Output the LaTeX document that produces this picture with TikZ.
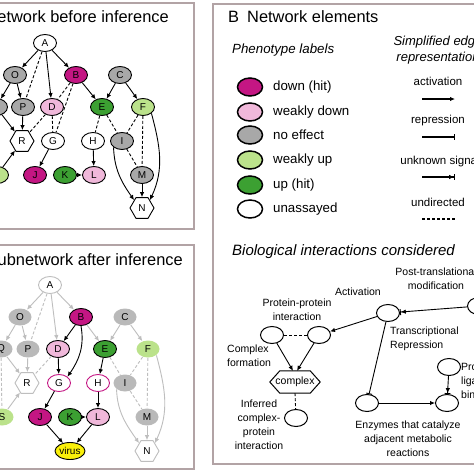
\documentclass[tikz,border=0pt]{standalone}
\usepackage{fontspec}
\setmainfont{Liberation Sans}
\usetikzlibrary{shapes.geometric,arrows.meta}
\definecolor{mag}{RGB}{196,22,131}
\definecolor{pnk}{RGB}{240,184,218}
\definecolor{gry}{RGB}{168,168,168}
\definecolor{gryb}{RGB}{185,185,185}
\definecolor{lgr}{RGB}{187,226,139}
\definecolor{dgr}{RGB}{60,160,50}
\definecolor{yel}{RGB}{250,240,10}
\definecolor{bcol}{RGB}{178,163,165}
\definecolor{egr}{RGB}{190,190,190}
\tikzset{
 nd/.style={ellipse, draw=black, line width=0.9pt, minimum width=23pt, minimum height=17pt, inner sep=0pt, font=\fontsize{10}{10}\selectfont},
 hx/.style={regular polygon, regular polygon sides=6, draw=black, line width=0.9pt, minimum size=24pt, inner sep=0pt, font=\fontsize{10}{10}\selectfont, fill=white},
 nb/.style={draw=none},
 gbord/.style={draw=egr},
 mbord/.style={draw=mag},
 edA/.style={line width=0.9pt, -{Latex[length=5pt,width=4.5pt]}},
 edU/.style={line width=0.9pt, dash pattern=on 3pt off 2pt},
 edR/.style={line width=0.9pt, -{Bar[width=6pt,line width=0.9pt]}},
 edX/.style={line width=0.9pt, -{Latex[length=5pt,width=4.5pt]Bar[width=6pt,line width=0.9pt]}},
 thk/.style={line width=1.2pt},
 gE/.style={draw=egr},
 panel/.style={draw=bcol, line width=2pt},
 ttl/.style={font=\fontsize{16.4}{19}\selectfont, inner sep=0pt},
 lgd/.style={ellipse, draw=black, line width=1.5pt, minimum width=25pt, minimum height=18pt, inner sep=0pt},
 lgt/.style={font=\fontsize{13.3}{15}\selectfont, anchor=west, inner sep=0pt},
 elt/.style={font=\fontsize{11.5}{13}\selectfont, inner sep=0pt},
 sml/.style={font=\fontsize{10.5}{14}\selectfont, inner sep=0pt, align=center},
 bnd/.style={ellipse, draw=black, line width=1pt, minimum width=23pt, minimum height=17pt, inner sep=0pt},
}
\begin{document}
\begin{tikzpicture}[x=1pt,y=-1pt]
\useasboundingbox (0,0) rectangle (474,474);
\clip (0,0) rectangle (474,474);
\fill[white] (0,0) rectangle (474,474);
% panels
\draw[panel] (-10,3) rectangle (194,229);
\draw[panel] (-10,245) rectangle (194,469);
\draw[panel] (213,4) rectangle (490,464);
\node[ttl, anchor=base east] (t1) at (169,22) {Network before inference};
\node[ttl, anchor=base east] (t2) at (183,265) {Subnetwork after inference};

% ---------- top network ----------
\node[nd, fill=white] (tA) at (45,43) {A};
\node[nd, fill=gry] (tO) at (15,75) {O};
\node[nd, fill=mag] (tB) at (76,75) {B};
\node[nd, fill=gry] (tC) at (120,75) {C};
\node[nd, fill=gry] (tQ) at (-4,107) {Q};
\node[nd, fill=gry] (tP) at (23,107) {P};
\node[nd, fill=pnk] (tD) at (52,107) {D};
\node[nd, fill=dgr] (tE) at (102,107) {E};
\node[nd, fill=lgr] (tF) at (143,107) {F};
\node[hx] (tR) at (22,141) {R};
\node[nd, fill=white] (tG) at (53,141) {G};
\node[nd, fill=white] (tH) at (93,141) {H};
\node[nd, fill=gry] (tI) at (122,141) {I};
\node[nd, fill=lgr] (tS) at (-3,175) {S};
\node[nd, fill=mag] (tJ) at (35,175) {J};
\node[nd, fill=dgr] (tK) at (65,175) {K};
\node[nd, fill=pnk] (tL) at (94,175) {L};
\node[nd, fill=gry] (tM) at (142,175) {M};
\node[hx] (tN) at (142,208) {N};
\draw[edA] (tA) -- (tO);
\draw[edA] (tA) -- (tB);
\draw[edA] (tA) -- (tD);
\draw[edU] (tA) -- (tP);
\draw[edA] (tO) -- (tQ);
\draw[edA] (tO) -- (tP);
\draw[edU] (tB) -- (tD);
\draw[edU] (tB) -- (tG);
\draw[edA] (tB) -- (tE);
\draw[edA] (tC) -- (tE);
\draw[edA] (tC) -- (tF);
\draw[edU] (tQ) -- (tS);
\draw[edA] (tQ) -- (tR);
\draw[edA] (tP) -- (tR);
\draw[edA] (tS) -- (tR);
\draw[edU] (tD) -- (tR);
\draw[edU] (tD) -- (tG);
\draw[edA] (tG) -- (tJ);
\draw[edU] (tE) -- (tH);
\draw[edU] (tE) -- (tI);
\draw[edU] (tF) -- (tI);
\draw[edU] (tF) -- (tM);
\draw[edU] (tI) -- (tM);
\draw[edA] (tH) -- (tL);
\draw[edA] (tK) -- (tL);
\draw[edA] (tM) -- (tN);
\draw[edA] (tI.south west) to[out=-88,in=125] (tN.north west);
\draw[edA] (tF.south east) to[out=-75,in=65] (tN.north east);

% ---------- bottom network ----------
\begin{scope}[shift={(5,242)}]
\node[nd, fill=white, gbord] (bA) at (45,43) {A};
\node[nd, fill=gryb, nb] (bO) at (15,75) {O};
\node[nd, fill=mag] (bB) at (76,75) {B};
\node[nd, fill=gryb, nb] (bC) at (120,75) {C};
\node[nd, fill=gryb, nb] (bQ) at (-4,107) {Q};
\node[nd, fill=gryb, nb] (bP) at (23,107) {P};
\node[nd, fill=pnk] (bD) at (53,107) {D};
\node[nd, fill=dgr] (bE) at (100,107) {E};
\node[nd, fill=lgr, nb] (bF) at (143,107) {F};
\node[hx, gbord] (bR) at (22,141) {R};
\node[nd, fill=white, mbord] (bG) at (54,141) {G};
\node[nd, fill=white, mbord] (bH) at (93,141) {H};
\node[nd, fill=gryb, nb] (bI) at (120,141) {I};
\node[nd, fill=lgr, nb] (bS) at (-3,175) {S};
\node[nd, fill=mag] (bJ) at (35,175) {J};
\node[nd, fill=dgr] (bK) at (65,175) {K};
\node[nd, fill=pnk] (bL) at (93,175) {L};
\node[nd, fill=gryb, nb] (bM) at (142,175) {M};
\node[hx, gbord] (bN) at (142,209) {N};
\node[nd, fill=yel, minimum width=30pt] (bV) at (65,209) {virus};
\draw[edA, gE] (bA) -- (bO);
\draw[edA, gE] (bA) -- (bB);
\draw[edA, gE] (bA) -- (bD);
\draw[edU, gE] (bA) -- (bP);
\draw[edA, gE] (bO) -- (bQ);
\draw[edA, gE] (bO) -- (bP);
\draw[edA, gE] (bB) -- (bE);
\draw[edA, gE] (bC) -- (bE);
\draw[edA, gE] (bC) -- (bF);
\draw[edU, gE] (bQ) -- (bS);
\draw[edA, gE] (bQ) -- (bR);
\draw[edA, gE] (bP) -- (bR);
\draw[edA, gE] (bS) -- (bR);
\draw[edU, gE] (bD) -- (bR);
\draw[edU, gE] (bE) -- (bI);
\draw[edU, gE] (bF) -- (bI);
\draw[edU, gE] (bF) -- (bM);
\draw[edU, gE] (bI) -- (bM);
\draw[edA, gE] (bM) -- (bN);
\draw[edA, gE] (bI.south west) to[out=-88,in=125] (bN.north west);
\draw[edA, gE] (bF.south east) to[out=-75,in=65] (bN.north east);
\draw[edA] (bB) -- (bD);
\draw[edA] (bB.south) to[out=-80,in=55] (bG.north east);
\draw[edA] (bD) -- (bG);
\draw[edA] (bG) -- (bJ);
\draw[edA] (bE) -- (bH);
\draw[edA] (bH) -- (bL);
\draw[edA] (bK) -- (bL);
\draw[edA] (bJ) -- (bV);
\draw[edA] (bL) -- (bV);
\end{scope}

% ---------- panel B ----------
\node[ttl, anchor=base west] (tb1) at (228,22) {B};
\node[ttl, anchor=base west] (tb2) at (247,22) {Network elements};
\node[font=\fontsize{13.3}{15}\selectfont\itshape, anchor=base west, inner sep=0pt] (ph) at (232,53) {Phenotype labels};
\node[font=\fontsize{13}{16}\selectfont\itshape, align=center, inner sep=0pt] (se) at (438,50) {Simplified edge\\representation};

\node[lgd, fill=mag] (l1) at (250,87) {};
\node[lgd, fill=pnk] (l2) at (250,112) {};
\node[lgd, fill=gry] (l3) at (250,135) {};
\node[lgd, fill=lgr] (l4) at (250,160) {};
\node[lgd, fill=dgr] (l5) at (250,185) {};
\node[lgd, fill=white] (l6) at (250,209) {};
\node[lgt] (lt1) at (273,87) {down (hit)};
\node[lgt] (lt2) at (273,112) {weakly down};
\node[lgt] (lt3) at (273,135) {no effect};
\node[lgt] (lt4) at (273,160) {weakly up};
\node[lgt] (lt5) at (273,185) {up (hit)};
\node[lgt] (lt6) at (273,209) {unassayed};

\node[elt] (e1) at (438,81) {activation};
\node[elt] (e2) at (438,121) {repression};
\node[elt] (e3) at (440,162) {unknown signal};
\node[elt] (e4) at (438,202) {undirected};
\coordinate (a1) at (422,99); \coordinate (a2) at (455,99);
\coordinate (r1) at (422,137); \coordinate (r2) at (455,137);
\coordinate (u1) at (422,177); \coordinate (u2) at (455,177);
\coordinate (d1) at (422,219); \coordinate (d2) at (455,219);
\draw[edA, thk] (a1) -- (a2);
\draw[edR, thk] (r1) -- (r2);
\draw[edX, thk] (u1) -- (u2);
\draw[edU, thk] (d1) -- (d2);

% ---------- biological interactions ----------
\node[font=\fontsize{15}{17}\selectfont\itshape, anchor=base west, inner sep=0pt] (bi) at (232,255) {Biological interactions considered};
\node[sml] (tptm) at (436,279) {Post-translational\\modification};
\node[sml] (tact) at (358,292) {Activation};
\node[sml] (tppi) at (297,310) {Protein-protein\\interaction};
\node[sml, align=left, anchor=north west] (ttr) at (390,327) {Transcriptional\\Repression};
\node[sml, align=left, anchor=north west] (tcf) at (227,345) {Complex\\formation};
\node[sml] (tinf) at (259,425) {Inferred\\complex-\\protein\\interaction};
\node[sml] (tenz) at (408,439) {Enzymes that catalyze\\adjacent metabolic\\reactions};
\node[sml, align=left, anchor=north west] (tpb) at (461,363) {Protein-\\ligand\\binding};

\node[bnd] (ptm) at (479,306) {};
\node[bnd] (act) at (388,313) {};
\node[bnd] (ppl) at (272,335) {};
\node[bnd] (ppr) at (319,335) {};
\node[inner sep=0pt, minimum width=50pt, minimum height=22pt, font=\fontsize{10.5}{12}\selectfont] (cx) at (295,382) {complex};
\draw[line width=1pt] (cx.west) -- ([xshift=10pt]cx.north west) -- ([xshift=-10pt]cx.north east) -- (cx.east) -- ([xshift=-10pt]cx.south east) -- ([xshift=10pt]cx.south west) -- cycle;
\node[bnd] (inf) at (296,418) {};
\node[bnd] (enl) at (367,403) {};
\node[bnd] (enr) at (447,403) {};
\node[bnd] (pb) at (449,367) {};

\draw[edX] (ptm) -- (act);
\draw[edA] (act) -- (ppr);
\draw[edR] (act) -- (enl);
\draw[edU] (ppl) -- (ppr);
\draw[edA] (ppl) -- ([xshift=-2pt]cx.north);
\draw[edA] (ppr) -- ([xshift=2pt]cx.north);
\draw[edU] (cx.south) -- (inf);
\draw[edA] (enl) -- (enr);
\draw[edX] (pb) -- (enr);
\end{tikzpicture}
\end{document}
